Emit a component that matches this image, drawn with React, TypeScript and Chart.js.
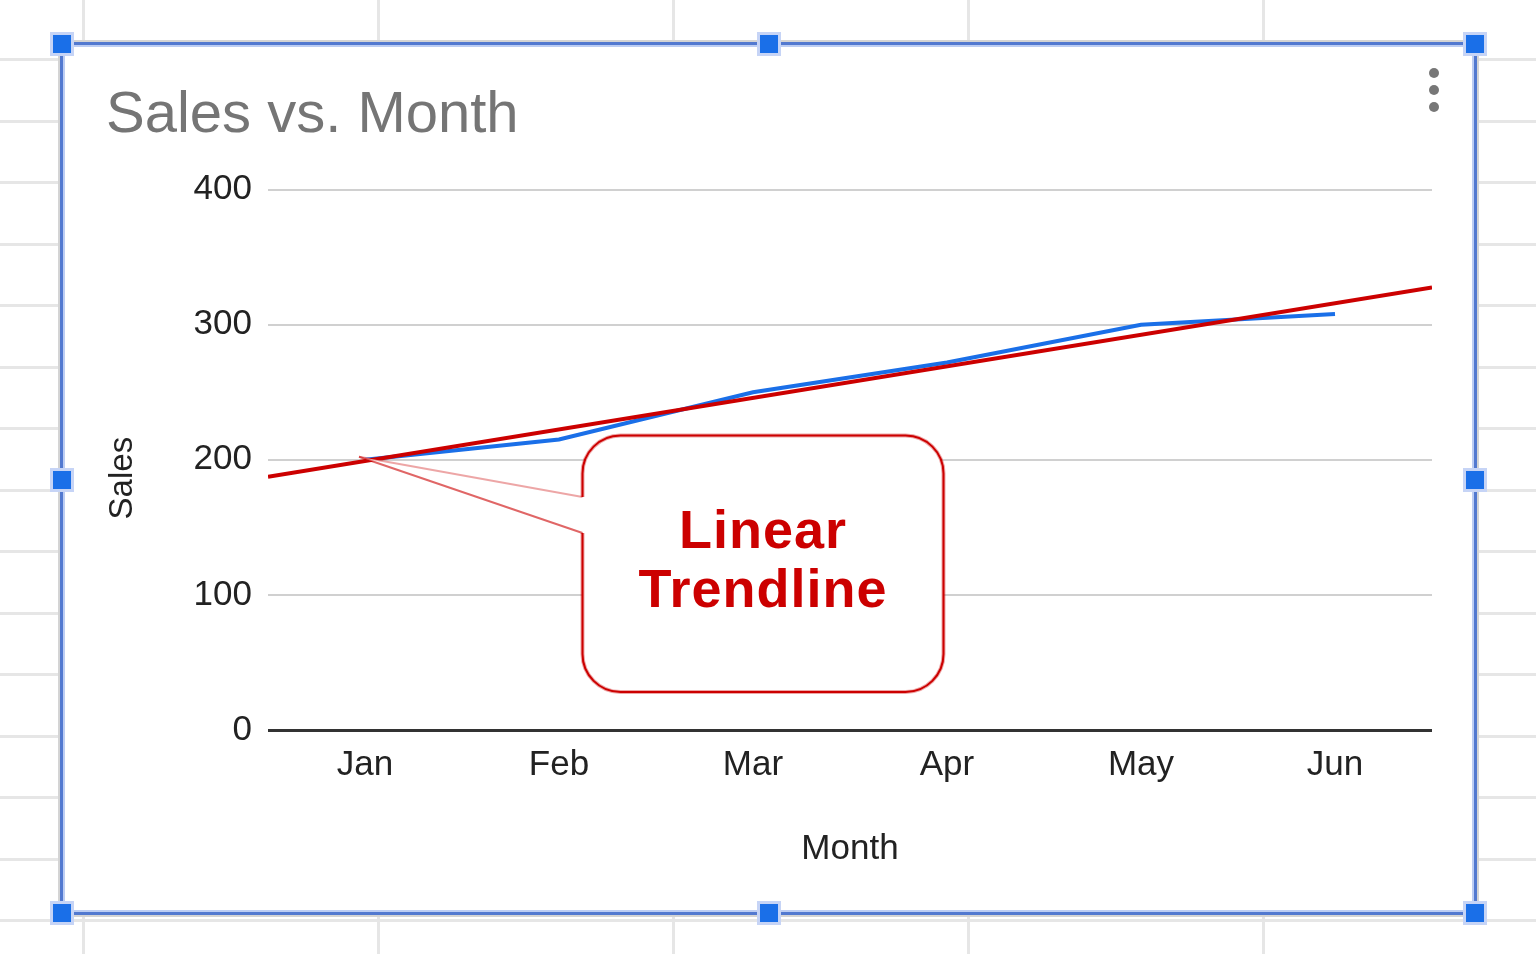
import React, { useEffect, useRef } from "react";
import { Chart, registerables } from "chart.js";

Chart.register(...registerables);

const months = ["Jan", "Feb", "Mar", "Apr", "May", "Jun"];
const sales = [200, 215, 250, 272, 300, 308];
const yTickValues = [0, 100, 200, 300, 400];
const chartTitle = "Sales vs. Month";
const xTitle = "Month";
const yTitle = "Sales";
const calloutLines = ["Linear", "Trendline"];

const FONT = "'Liberation Sans', Arial, Helvetica, sans-serif";

// least-squares linear trendline through the sales series
function trendPoints() {
  const n = sales.length;
  const xs = sales.map((_, i) => i);
  const mx = xs.reduce((a, b) => a + b, 0) / n;
  const my = sales.reduce((a, b) => a + b, 0) / n;
  let num = 0;
  let den = 0;
  xs.forEach((x, i) => {
    num += (x - mx) * (sales[i] - my);
    den += (x - mx) * (x - mx);
  });
  const slope = num / den;
  const b = my - slope * mx;
  const x0 = -0.5;
  const x1 = n - 0.5;
  return [
    { x: x0, y: b + slope * x0 },
    { x: x1, y: b + slope * x1 },
  ];
}

const CANVAS_LEFT = 62;
const CANVAS_TOP = 44;
const CANVAS_W = 1414;
const CANVAS_H = 870;

const decorPlugin = {
  id: "decor",
  beforeDraw(chart: any) {
    const ctx = chart.ctx;
    ctx.save();
    ctx.fillStyle = "#ffffff";
    ctx.fillRect(0, 0, chart.width, chart.height);
    ctx.restore();
  },
  afterDraw(chart: any) {
    const ctx = chart.ctx;
    const xs = chart.scales.x;
    const ys = chart.scales.y;
    // three-dot menu
    ctx.save();
    ctx.fillStyle = "#777777";
    [29, 46, 63].forEach((cy) => {
      ctx.beginPath();
      ctx.arc(1372, cy, 5, 0, Math.PI * 2);
      ctx.fill();
    });
    ctx.restore();

    // callout bubble
    const tipX = xs.getPixelForValue(0) - 6;
    const tipY = ys.getPixelForValue(sales[0]) - 3;
    const L = 520.5;
    const T = 391.5;
    const R = 881.5;
    const B = 648;
    const r = 38;
    const nTop = 453;
    const nBot = 489;

    ctx.save();
    ctx.beginPath();
    ctx.moveTo(tipX, tipY);
    ctx.lineTo(L, nTop);
    ctx.lineTo(L, T + r);
    ctx.arcTo(L, T, L + r, T, r);
    ctx.lineTo(R - r, T);
    ctx.arcTo(R, T, R, T + r, r);
    ctx.lineTo(R, B - r);
    ctx.arcTo(R, B, R - r, B, r);
    ctx.lineTo(L + r, B);
    ctx.arcTo(L, B, L, B - r, r);
    ctx.lineTo(L, nBot);
    ctx.closePath();
    ctx.fillStyle = "#ffffff";
    ctx.fill();

    // pointer lines (lighter)
    ctx.lineWidth = 2;
    ctx.strokeStyle = "rgba(204,0,0,0.35)";
    ctx.beginPath();
    ctx.moveTo(tipX, tipY);
    ctx.lineTo(L, nTop);
    ctx.stroke();
    ctx.strokeStyle = "rgba(204,0,0,0.6)";
    ctx.beginPath();
    ctx.moveTo(tipX, tipY);
    ctx.lineTo(L, nBot);
    ctx.stroke();

    // box outline
    const boxPath = () => {
      ctx.beginPath();
      ctx.moveTo(L, nTop);
      ctx.lineTo(L, T + r);
      ctx.arcTo(L, T, L + r, T, r);
      ctx.lineTo(R - r, T);
      ctx.arcTo(R, T, R, T + r, r);
      ctx.lineTo(R, B - r);
      ctx.arcTo(R, B, R - r, B, r);
      ctx.lineTo(L + r, B);
      ctx.arcTo(L, B, L, B - r, r);
      ctx.lineTo(L, nBot);
    };
    boxPath();
    ctx.lineWidth = 4;
    ctx.strokeStyle = "rgba(204,0,0,0.35)";
    ctx.stroke();
    boxPath();
    ctx.lineWidth = 2;
    ctx.strokeStyle = "#cc0000";
    ctx.stroke();

    // text
    ctx.fillStyle = "#cc0000";
    ctx.font = `bold 54px ${FONT}`;
    try {
      (ctx as any).letterSpacing = "1px";
    } catch (e) {}
    ctx.textAlign = "center";
    ctx.textBaseline = "alphabetic";
    const cx = (L + R) / 2;
    ctx.fillText(calloutLines[0], cx, 504);
    ctx.fillText(calloutLines[1], cx, 563);
    ctx.restore();
  },
};

function ChartCanvas() {
  const ref = useRef<HTMLCanvasElement | null>(null);
  useEffect(() => {
    if (!ref.current) return;
    const chart = new Chart(ref.current, {
      type: "line",
      data: {
        datasets: [
          {
            label: "Trendline",
            data: trendPoints(),
            borderColor: "#cc0000",
            borderWidth: 4,
            pointRadius: 0,
            tension: 0,
            order: 0,
          },
          {
            label: "Sales",
            data: sales.map((v, i) => ({ x: i, y: v })),
            borderColor: "#1a6fe8",
            borderWidth: 4,
            pointRadius: 0,
            tension: 0,
            order: 1,
          },
        ],
      },
      options: {
        responsive: false,
        devicePixelRatio: 1,
        animation: false,
        layout: { padding: { left: 44, right: 44, top: 0, bottom: 44 } },
        plugins: {
          legend: { display: false },
          tooltip: { enabled: false },
          title: {
            display: true,
            text: chartTitle,
            align: "start",
            color: "#757575",
            font: { family: FONT, size: 58, weight: "normal", lineHeight: 1.2 },
            padding: { top: 37, bottom: 39 },
          },
        },
        scales: {
          x: {
            type: "linear",
            min: -0.5,
            max: months.length - 0.5,
            afterBuildTicks: (s: any) => {
              s.ticks = months.map((_, i) => ({ value: i }));
            },
            ticks: {
              callback: (v: any) => months[v] ?? "",
              color: "#222222",
              font: { family: FONT, size: 35, lineHeight: 1.2 },
              padding: 14,
              maxRotation: 0,
              autoSkip: false,
            },
            grid: { display: false, drawTicks: false },
            border: { display: false },
            title: {
              display: true,
              text: xTitle,
              color: "#222222",
              font: { family: FONT, size: 35, lineHeight: 1.2 },
              padding: 0,
            },
            afterFit: (s: any) => {
              s.height = 140;
            },
          },
          y: {
            min: yTickValues[0],
            max: yTickValues[yTickValues.length - 1],
            afterBuildTicks: (s: any) => {
              s.ticks = yTickValues.map((v) => ({ value: v }));
            },
            ticks: {
              color: "#222222",
              font: { family: FONT, size: 35, lineHeight: 1.2 },
              padding: 16,
            },
            grid: {
              color: (c: any) => (c.tick && c.tick.value === 0 ? "#333333" : "#d0d0d0"),
              lineWidth: (c: any) => (c.tick && c.tick.value === 0 ? 3 : 2),
              drawTicks: false,
            },
            border: { display: false },
            title: {
              display: true,
              text: yTitle + "    ",
              color: "#222222",
              font: { family: FONT, size: 33, lineHeight: 1 },
              padding: 0,
            },
            afterFit: (s: any) => {
              s.width = 162;
            },
          },
        },
      },
      plugins: [decorPlugin],
    } as any);
    return () => chart.destroy();
  }, []);
  return (
    <canvas
      ref={ref}
      width={CANVAS_W}
      height={CANVAS_H}
      style={{ position: "absolute", left: CANVAS_LEFT, top: CANVAS_TOP, width: CANVAS_W, height: CANVAS_H }}
    />
  );
}

export default function App() {
  const hLines: number[] = [];
  for (let k = 0; k < 15; k++) hLines.push(58 + 61.5 * k);
  const vLines: number[] = [];
  for (let k = 0; k < 5; k++) vLines.push(82 + 295 * k);
  const handles = [
    [62, 44], [769, 44], [1475, 44],
    [62, 480], [1475, 480],
    [62, 913], [769, 913], [1475, 913],
  ];
  return (
    <div
      style={{
        position: "absolute",
        left: 0,
        top: 0,
        width: 1536,
        height: 954,
        background: "#ffffff",
        overflow: "hidden",
      }}
    >
      {hLines.map((y, i) => (
        <div key={"h" + i} style={{ position: "absolute", left: 0, top: y, width: 1536, height: 3, background: "#e6e6e6" }} />
      ))}
      {vLines.map((x, i) => (
        <div key={"v" + i} style={{ position: "absolute", left: x, top: 0, width: 3, height: 954, background: "#e6e6e6" }} />
      ))}
      <ChartCanvas />
      <div
        style={{
          position: "absolute",
          left: 60,
          top: 42,
          width: 1417,
          height: 873,
          boxSizing: "border-box",
          border: "3px solid #5279d0",
          boxShadow: "0 0 0 2px #d4d4d4, inset 0 0 0 2px #bccdf3",
          pointerEvents: "none",
        }}
      />
      {handles.map(([x, y], i) => (
        <div
          key={"k" + i}
          style={{
            position: "absolute",
            left: x - 12,
            top: y - 12,
            width: 24,
            height: 24,
            boxSizing: "border-box",
            background: "#1a6fe8",
            border: "3px solid #c6d4f6",
          }}
        />
      ))}
    </div>
  );
}
